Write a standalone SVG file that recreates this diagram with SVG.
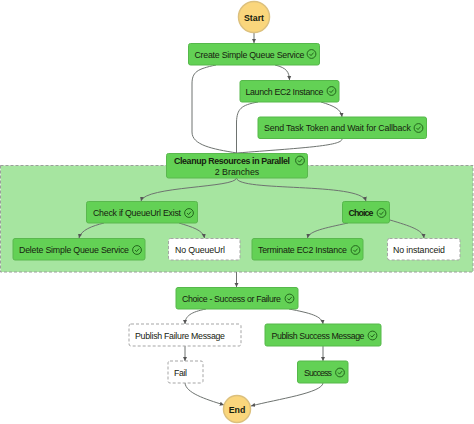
<svg xmlns="http://www.w3.org/2000/svg" width="474" height="424" viewBox="0 0 474 424">
<style>
text{font-family:"Liberation Sans",Arial,sans-serif;font-size:8.800px;fill:#16210f}
.b{font-weight:bold;font-size:8.800px}
.m{text-anchor:middle}
.ok{fill:#63d155;stroke:#56b84b;stroke-width:1}
.okp{fill:#63d155;stroke:#5ab84e;stroke-width:1}
.un{fill:#fff;stroke:#a5a5a5;stroke-width:1;stroke-dasharray:3 2}
.term{fill:#fad67c;stroke:#dcc07d;stroke-width:1.5}
.c{fill:none;stroke:#6e7370;stroke-width:1;marker-end:url(#a)}
.n{fill:none;stroke:#6e7370;stroke-width:1}
.i{fill:none;stroke:#1c5a16;stroke-width:.9}
</style>
<defs>
<marker id="a" viewBox="0 0 6 6" refX="5" refY="3" markerWidth="5" markerHeight="5" orient="auto-start-reverse"><path d="M0 0.5L5 3L0 5.5Z" fill="#555"/></marker>
<g id="k"><circle r="4.4" class="i"/><path d="M-2 0L-.5 1.6L2.1-1.4" class="i"/></g>
</defs>
<rect id="parallel-area" x="0.5" y="165.5" width="472.5" height="106.500" fill="#a6e5a0" stroke="#9a9f9a" stroke-dasharray="3 2"/>
<g id="connectors">
<path class="c" d="M254 33V43"/>
<path class="c" d="M275 65C287 68 289 72 289.500 80"/>
<path class="c" d="M321 102C334 106 341 109 342 117"/>
<path class="n" d="M216 65C197 69 192 72 192 84V132C192 145 212 149 237 153"/>
<path class="n" d="M258 102C241 105 237 109 236.500 122V153"/>
<path class="n" d="M342 139C342 146 300 148 237 153"/>
<path class="c" d="M236.500 178C236 188 145 186 141 201"/>
<path class="c" d="M236.500 178C238 192 360 182 366 201"/>
<path class="c" d="M104 223C92 226 81 230 79 238"/>
<path class="c" d="M179 223C192 227 203 230 204.500 238"/>
<path class="c" d="M348 223C325 228 309 231 307.500 238"/>
<path class="c" d="M390 220C410 226 423 230 424 238"/>
<path class="c" d="M236.500 272V287"/>
<path class="c" d="M206 309C191 312 185 316 185 324"/>
<path class="c" d="M289 309C310 313 322 316 323 324"/>
<path class="c" d="M185 346V361"/>
<path class="c" d="M323 346V361"/>
<path class="c" d="M185 383C186 393 205 399 224 405"/>
<path class="c" d="M323 383C322 393 278 399 251 406"/>
</g>
<g id="start"><circle class="term" cx="254" cy="17" r="15.500"/><text class="b m" x="254" y="20.500">Start</text></g>
<g id="create"><rect class="ok" x="188.500" y="43.500" width="131" height="21.500" rx="2"/><text x="194.500" y="57.500" textLength="110">Create Simple Queue Service</text><use href="#k" x="311.500" y="54"/></g>
<g id="launch"><rect class="ok" x="240" y="80.500" width="99" height="21.500" rx="2"/><text x="245.500" y="94.500" textLength="78">Launch EC2 Instance</text><use href="#k" x="331.500" y="91"/></g>
<g id="send"><rect class="ok" x="258" y="117" width="168.500" height="21.500" rx="2"/><text x="264" y="131" textLength="147">Send Task Token and Wait for Callback</text><use href="#k" x="418.500" y="128"/></g>
<g id="cleanup"><rect class="okp" x="166.500" y="153.500" width="141" height="24.500" rx="2"/><text class="b" x="174" y="163.500" textLength="116">Cleanup Resources in Parallel</text><text class="m" x="237" y="175">2 Branches</text><use href="#k" x="300" y="160.500"/></g>
<g id="check"><rect class="okp" x="86.500" y="201.500" width="111" height="21.500" rx="2"/><text x="93" y="216" textLength="88">Check if QueueUrl Exist</text><use href="#k" x="189" y="213"/></g>
<g id="delete"><rect class="okp" x="13" y="238.500" width="132" height="21.500" rx="2"/><text x="19" y="253" textLength="110">Delete Simple Queue Service</text><use href="#k" x="137" y="250"/></g>
<g id="no-queueurl"><rect class="un" x="168.500" y="238.500" width="71.500" height="21.500" rx="2"/><text x="175" y="253" textLength="50">No QueueUrl</text></g>
<g id="choice"><rect class="ok" x="342.500" y="201.500" width="47" height="21.500" rx="2"/><text class="b" x="348.500" y="216" textLength="25">Choice</text><use href="#k" x="381.500" y="213"/></g>
<g id="terminate"><rect class="okp" x="252" y="238.500" width="111" height="21.500" rx="2"/><text x="258" y="253" textLength="89">Terminate EC2 Instance</text><use href="#k" x="355.500" y="250"/></g>
<g id="no-instanceid"><rect class="un" x="387.500" y="238.500" width="72.500" height="21.500" rx="2"/><text x="393" y="253" textLength="52">No instanceid</text></g>
<g id="choice-sf"><rect class="ok" x="176" y="287.500" width="122" height="21.500" rx="2"/><text x="182" y="302" textLength="99">Choice - Success or Failure</text><use href="#k" x="289.500" y="298.500"/></g>
<g id="publish-failure"><rect class="un" x="129" y="324" width="112" height="22" rx="2"/><text x="135" y="338.500" textLength="90">Publish Failure Message</text></g>
<g id="publish-success"><rect class="ok" x="265" y="324" width="116" height="22" rx="2"/><text x="271.500" y="338.500" textLength="93">Publish Success Message</text><use href="#k" x="372.500" y="335.500"/></g>
<g id="fail"><rect class="un" x="168" y="361" width="35" height="22" rx="2"/><text x="174" y="375.500" textLength="13">Fail</text></g>
<g id="success"><rect class="ok" x="297.500" y="361" width="50.500" height="22" rx="2"/><text x="304" y="375.500" textLength="28">Success</text><use href="#k" x="340" y="372.500"/></g>
<g id="end"><circle class="term" cx="237" cy="409" r="13.500"/><text class="b m" x="237" y="412.500">End</text></g>
</svg>
